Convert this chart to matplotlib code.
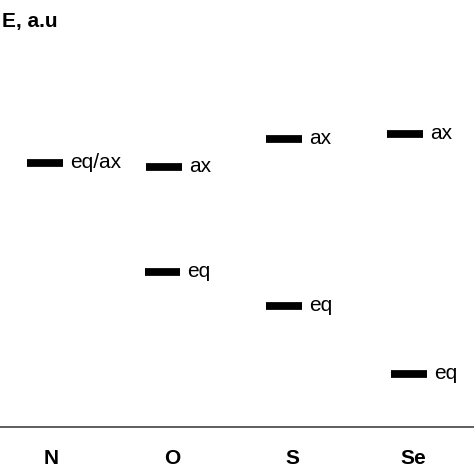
import matplotlib
matplotlib.use("Agg")
import matplotlib.pyplot as plt

plt.rcParams['font.family'] = ['Liberation Sans', 'DejaVu Sans']

# ---- data ----
categories = ["N", "O", "S", "Se"]
level_category = [0, 1, 1, 2, 2, 3, 3]
level_energy = [2.64, 2.60, 1.55, 2.88, 1.21, 2.93, 0.53]
level_labels = ["eq/ax", "ax", "eq", "ax", "eq", "ax", "eq"]
y_label = "E, a.u"

# ---- layout ----
W = H = 474
dpi = 100
line_px = 427
fig = plt.figure(figsize=(W / dpi, H / dpi), dpi=dpi)
ax = fig.add_axes([0, (H - line_px) / H, 1, line_px / H])
px_per_cat = 120.5
x0_px = 51.5
ax.set_xlim(-x0_px / px_per_cat, (W - x0_px) / px_per_cat)
ax.set_ylim(0, line_px / 100)

bar_half = 0.148
bar_shift = [-0.054, -0.064, -0.08, -0.069, -0.069, -0.066, -0.033]

for c, e, lab, s in zip(level_category, level_energy, level_labels, bar_shift):
    xc = c + s
    ax.hlines(e, xc - bar_half, xc + bar_half, colors='black', linewidth=5.6,
              capstyle='butt')
    ax.annotate(lab, xy=(xc + bar_half, e), xytext=(7, -5),
                textcoords='offset pixels', ha='left', va='baseline',
                fontsize=15, color='black')

for side in ['top', 'left', 'right']:
    ax.spines[side].set_visible(False)
ax.spines['bottom'].set_color('#333333')
ax.spines['bottom'].set_linewidth(1.1)
ax.set_yticks([])
ax.set_xticks(range(len(categories)))
ax.set_xticklabels(categories, fontsize=15, fontweight='bold')
ax.tick_params(axis='x', length=0, pad=15.5)

fig.text(2 / W, 1 - 26.7 / H, y_label, ha='left', va='baseline',
         fontsize=15, fontweight='bold')

fig.savefig("out.png", dpi=dpi)
